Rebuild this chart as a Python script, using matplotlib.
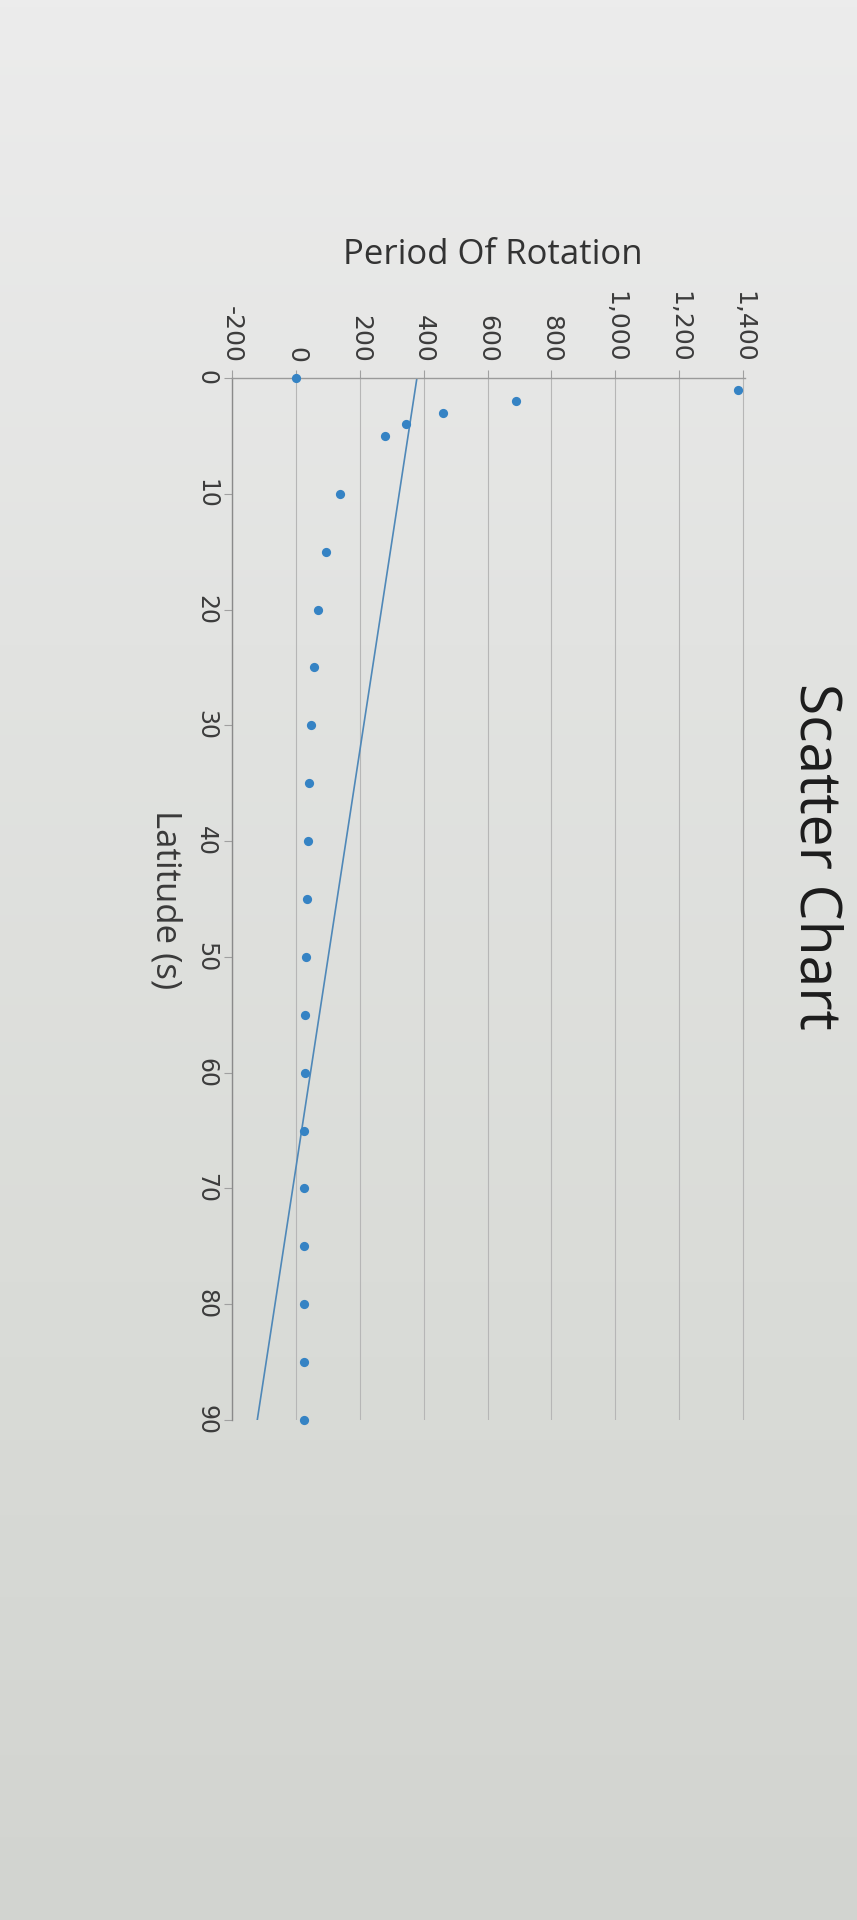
import numpy as np
import matplotlib
matplotlib.use("Agg")
import matplotlib.pyplot as plt
from matplotlib.ticker import FuncFormatter
from matplotlib.colors import LinearSegmentedColormap

# ---- data ----
latitude = [0, 1, 2, 3, 4, 5, 10, 15, 20, 25, 30, 35, 40, 45, 50, 55, 60, 65, 70, 75, 80, 85, 90]
period = [0, 1385, 688, 460, 344, 278, 138, 93, 70, 57, 48, 42, 37, 34, 31, 29, 28, 26.5, 25.5, 25, 24.4, 24.1, 24]
lat_ticks = [0, 10, 20, 30, 40, 50, 60, 70, 80, 90]
period_ticks = [-200, 0, 200, 400, 600, 800, 1000, 1200, 1400]
title_text = "Scatter Chart"
lat_label = "Latitude (s)"
period_label = "Period Of Rotation"

W, H = 857, 1920
fig = plt.figure(figsize=(W / 100, H / 100), dpi=100)

# photographed-screen background
bg = fig.add_axes([0, 0, 1, 1], zorder=-10)
grad = np.linspace(0, 1, 256).reshape(-1, 1)
cmap = LinearSegmentedColormap.from_list("bg", ["#ececec", "#e2e3e1", "#dadcd8", "#d2d4d0"])
bg.imshow(grad, aspect="auto", cmap=cmap, extent=[0, 1, 0, 1], origin="upper")
bg.axis("off")

# chart is shown rotated 90 degrees clockwise
x0, x1 = 232 / W, 745 / W
y_top, y_bot = 1 - 378 / H, 1 - 1420 / H
ax = fig.add_axes([x0, y_bot, x1 - x0, y_top - y_bot])
ax.set_facecolor("none")

ax.scatter(period, latitude, s=44, color="#3583c4", zorder=3, clip_on=False, linewidths=0)
coef = np.polyfit(latitude, period, 1)
fit_lat = np.array([min(latitude), max(latitude)])
ax.plot(np.polyval(coef, fit_lat), fit_lat, color="#4f88b8", lw=1.2, zorder=2)

ax.set_xlim(period_ticks[0], period_ticks[-1] + 6)
ax.set_ylim(lat_ticks[-1], lat_ticks[0])
ax.set_xticks(period_ticks)
ax.xaxis.set_major_formatter(FuncFormatter(lambda v, p: f"{int(v):,}"))
ax.xaxis.tick_top()
ax.set_yticks(lat_ticks)

ax.grid(axis="x", color="#b6b6b6", lw=0.8)
ax.grid(axis="y", visible=False)
for s in ["right", "bottom"]:
    ax.spines[s].set_visible(False)
ax.spines["left"].set_color("#8a8a8a")
ax.spines["top"].set_color("#9a9a9a")
ax.spines["left"].set_linewidth(1.0)
ax.spines["top"].set_linewidth(1.0)

ax.tick_params(axis="x", top=True, bottom=False, length=6, color="#a0a0a0",
               labelsize=18, labelcolor="#3c3c3c", labelrotation=270, pad=5)
ax.tick_params(axis="y", left=True, length=6, color="#a0a0a0",
               labelsize=17, labelcolor="#3c3c3c", labelrotation=270, pad=4)
for lbl in ax.get_yticklabels():
    lbl.set_va("center")

fig.text(815 / W, 1 - 856 / H, title_text, rotation=270, ha="center", va="center",
         fontsize=41, family="Open Sans", color="#1c1c1c")
fig.text(165 / W, 1 - 900 / H, lat_label, rotation=270, ha="center", va="center",
         fontsize=25, family="Open Sans", color="#3a3a3a")
fig.text(493 / W, 1 - 255 / H, period_label, ha="center", va="center",
         fontsize=25, family="Open Sans", color="#333333")

fig.savefig("out.png", dpi=100)
